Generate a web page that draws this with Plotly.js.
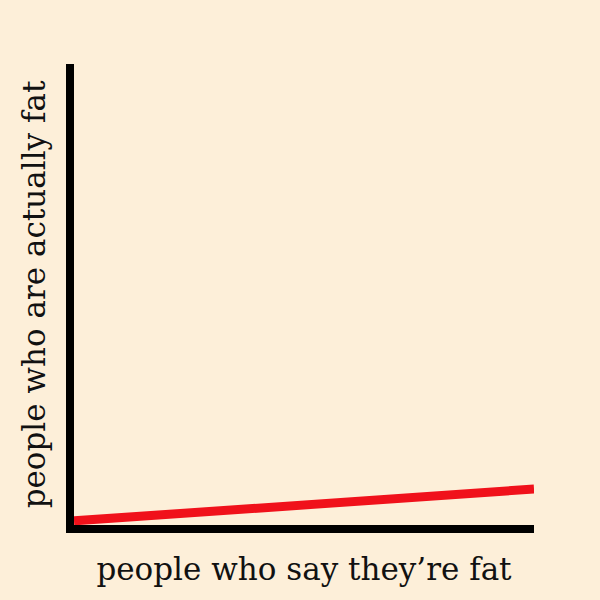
<!DOCTYPE html>
<html>
<head>
<meta charset="utf-8">
<script src="https://cdn.plot.ly/plotly-3.0.1.min.js"></script>
<style>
  html, body { margin: 0; padding: 0; background: #fdefd9; }
  #chart { width: 600px; height: 600px; }
</style>
</head>
<body>
<div id="chart"></div>
<script>
// the joke chart: one red line that barely rises
var sayTheyreFat = [0, 100];
var actuallyFat = [0.9, 7.8];

var xTitle = 'people who say they\u2019re fat';
var yTitle = 'people who are actually fat';

var plotlyData = [
    {
        x: sayTheyreFat,
        y: actuallyFat,
        type: 'scatter',
        mode: 'lines',
        line: { color: '#f0111b', width: 9 },
        hoverinfo: 'skip'
    }
];

var titleFont = { family: 'DejaVu Serif, serif', size: 31, color: '#111111' };

var plotlyLayout = {
    width: 600,
    height: 600,
    paper_bgcolor: '#fdefd9',
    plot_bgcolor: '#fdefd9',
    showlegend: false,
    margin: { l: 74, r: 66, t: 64, b: 75 },
    xaxis: {
        range: [0, 100],
        showline: true,
        linecolor: '#000000',
        linewidth: 8,
        showgrid: false,
        zeroline: false,
        showticklabels: false,
        ticks: '',
        title: { text: xTitle, font: titleFont, standoff: 29 }
    },
    yaxis: {
        range: [0, 100],
        showline: true,
        linecolor: '#000000',
        linewidth: 8,
        showgrid: false,
        zeroline: false,
        showticklabels: false,
        ticks: '',
        title: { text: yTitle, font: titleFont, standoff: 14 }
    }
};

var plotlyConfig = { displayModeBar: false, staticPlot: true };

Plotly.newPlot('chart', plotlyData, plotlyLayout, plotlyConfig);
</script>
</body>
</html>
